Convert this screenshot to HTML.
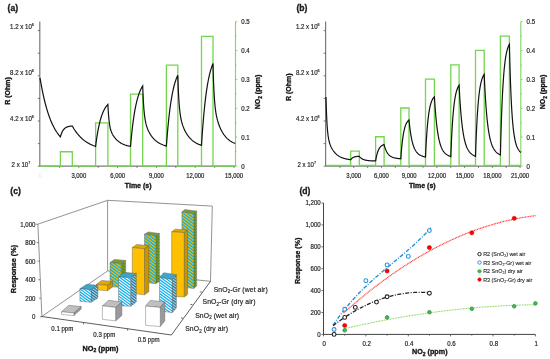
<!DOCTYPE html>
<html><head><meta charset="utf-8"><style>
html,body{margin:0;padding:0;background:#fff;width:550px;height:359px;overflow:hidden}
svg{display:block;font-family:"Liberation Sans",sans-serif;filter:blur(0.3px)} text[fill='#2a2a2a']{stroke:#2a2a2a;stroke-width:0.22px} text[font-weight='bold']{stroke:#111;stroke-width:0.3px}
</style></head><body>
<svg width="550" height="359" viewBox="0 0 550 359" style='font-family:"Liberation Sans",sans-serif'>
<defs>
<pattern id="hc" width="2.2" height="2.2" patternUnits="userSpaceOnUse" patternTransform="rotate(-62)"><rect width="2.2" height="2.2" fill="#fff"/><rect width="1.15" height="2.2" fill="#18b0ec"/></pattern>
<pattern id="hcr" width="2.2" height="2.2" patternUnits="userSpaceOnUse" patternTransform="rotate(-62)"><rect width="2.2" height="2.2" fill="#c4ccd0"/><rect width="1.15" height="2.2" fill="#1a80b0"/></pattern>
<pattern id="hg" width="2.4" height="2.4" patternUnits="userSpaceOnUse" patternTransform="rotate(-62)"><rect width="2.4" height="2.4" fill="#ecc000"/><rect width="1.2" height="2.4" fill="#22aedc"/></pattern>
<pattern id="hgr" width="2.4" height="2.4" patternUnits="userSpaceOnUse" patternTransform="rotate(-62)"><rect width="2.4" height="2.4" fill="#628c2c"/><rect width="0.6" height="2.4" fill="#4f9a88"/></pattern>
</defs>
<defs><clipPath id="cp1"><polygon points="121.3,263.6 125.7,260.40000000000003 125.7,284.40000000000003 121.3,287.6"/></clipPath><clipPath id="cp2"><polygon points="110.0,262.6 121.3,263.6 121.3,287.6 110.0,286.6"/></clipPath><clipPath id="cp3"><polygon points="155.8,235.79999999999998 159.5,233.49999999999997 159.5,281.5 155.8,283.79999999999995"/></clipPath><clipPath id="cp4"><polygon points="144.5,234.2 155.8,235.79999999999998 155.8,283.79999999999995 144.5,282.2"/></clipPath><clipPath id="cp5"><polygon points="193.8,213.5 196.70000000000002,211.1 196.70000000000002,286.1 193.8,288.5"/></clipPath><clipPath id="cp6"><polygon points="181.9,212.0 193.8,213.5 193.8,288.5 181.9,287.0"/></clipPath><clipPath id="cp7"><polygon points="91.10000000000001,289.7 97.9,285.3 97.9,297.90000000000003 91.10000000000001,302.3"/></clipPath><clipPath id="cp8"><polygon points="79.9,288.7 91.10000000000001,289.7 91.10000000000001,302.3 79.9,301.3"/></clipPath><clipPath id="cp9"><polygon points="130.7,277.6 136.29999999999998,273.40000000000003 136.29999999999998,302.1 130.7,306.3"/></clipPath><clipPath id="cp10"><polygon points="118.5,277.0 130.7,277.6 130.7,306.3 118.5,305.7"/></clipPath><clipPath id="cp11"><polygon points="172.2,279.5 176.39999999999998,274.7 176.39999999999998,307.9 172.2,312.7"/></clipPath><clipPath id="cp12"><polygon points="159.5,277.5 172.2,279.5 172.2,312.7 159.5,310.7"/></clipPath></defs>
<text x="7.6" y="10.7" font-size="8.6" text-anchor="start" font-weight="bold" fill="#222" >(a)</text>
<line x1="39.8" y1="21.5" x2="39.8" y2="166.2" stroke="#7a7a7a" stroke-width="1.2"/>
<line x1="37.8" y1="30.6" x2="39.8" y2="30.6" stroke="#555" stroke-width="0.8"/>
<line x1="37.8" y1="53.2" x2="39.8" y2="53.2" stroke="#555" stroke-width="0.8"/>
<line x1="37.8" y1="75.8" x2="39.8" y2="75.8" stroke="#555" stroke-width="0.8"/>
<line x1="37.8" y1="98.4" x2="39.8" y2="98.4" stroke="#555" stroke-width="0.8"/>
<line x1="37.8" y1="121.0" x2="39.8" y2="121.0" stroke="#555" stroke-width="0.8"/>
<line x1="37.8" y1="143.6" x2="39.8" y2="143.6" stroke="#555" stroke-width="0.8"/>
<line x1="37.8" y1="166.2" x2="39.8" y2="166.2" stroke="#555" stroke-width="0.8"/>
<text transform="translate(33.8 28.8) scale(0.84 1)" x="0" y="0" font-size="7.26" text-anchor="end" fill="#2a2a2a">1.2 x 10<tspan font-size="4.356" dy="-2.6">6</tspan></text>
<text transform="translate(33.8 74.8) scale(0.84 1)" x="0" y="0" font-size="7.26" text-anchor="end" fill="#2a2a2a">8.2 x 10<tspan font-size="4.356" dy="-2.6">6</tspan></text>
<text transform="translate(33.8 120.8) scale(0.84 1)" x="0" y="0" font-size="7.26" text-anchor="end" fill="#2a2a2a">4.2 x 10<tspan font-size="4.356" dy="-2.6">6</tspan></text>
<text transform="translate(30.199999999999996 166.8) scale(0.84 1)" x="0" y="0" font-size="7.26" text-anchor="end" fill="#2a2a2a">2 x 10<tspan font-size="4.356" dy="-2.6">7</tspan></text>
<line x1="39.8" y1="166.2" x2="235.5" y2="166.2" stroke="#7a7a7a" stroke-width="1.2"/>
<line x1="59.4" y1="166.2" x2="59.4" y2="168" stroke="#555" stroke-width="0.7"/>
<line x1="78.8" y1="166.2" x2="78.8" y2="168" stroke="#555" stroke-width="0.7"/>
<line x1="98.2" y1="166.2" x2="98.2" y2="168" stroke="#555" stroke-width="0.7"/>
<line x1="117.6" y1="166.2" x2="117.6" y2="168" stroke="#555" stroke-width="0.7"/>
<line x1="137.0" y1="166.2" x2="137.0" y2="168" stroke="#555" stroke-width="0.7"/>
<line x1="156.4" y1="166.2" x2="156.4" y2="168" stroke="#555" stroke-width="0.7"/>
<line x1="175.8" y1="166.2" x2="175.8" y2="168" stroke="#555" stroke-width="0.7"/>
<line x1="195.2" y1="166.2" x2="195.2" y2="168" stroke="#555" stroke-width="0.7"/>
<line x1="214.6" y1="166.2" x2="214.6" y2="168" stroke="#555" stroke-width="0.7"/>
<line x1="234.0" y1="166.2" x2="234.0" y2="168" stroke="#555" stroke-width="0.7"/>
<text transform="translate(40.099999999999994 177.5) scale(0.87 1)" x="0" y="0" font-size="6.8" text-anchor="middle" fill="#e4e4e4">0</text>
<text transform="translate(78.8 177.5) scale(0.87 1)" x="0" y="0" font-size="6.8" text-anchor="middle" fill="#2a2a2a">3,000</text>
<text transform="translate(117.6 177.5) scale(0.87 1)" x="0" y="0" font-size="6.8" text-anchor="middle" fill="#2a2a2a">6,000</text>
<text transform="translate(156.39999999999998 177.5) scale(0.87 1)" x="0" y="0" font-size="6.8" text-anchor="middle" fill="#2a2a2a">9,000</text>
<text transform="translate(195.2 177.5) scale(0.87 1)" x="0" y="0" font-size="6.8" text-anchor="middle" fill="#2a2a2a">12,000</text>
<text transform="translate(234.0 177.5) scale(0.87 1)" x="0" y="0" font-size="6.8" text-anchor="middle" fill="#2a2a2a">15,000</text>
<text x="138.15" y="187.5" font-size="7" text-anchor="middle" font-weight="bold" fill="#111" >Time (s)</text>
<text x="0" y="0" font-size="7" font-weight="bold" fill="#111" text-anchor="middle" transform="translate(9.5 91) rotate(-90)">R (Ohm)</text>
<line x1="235.5" y1="21.5" x2="235.5" y2="166.2" stroke="#88d66a" stroke-width="1.15"/>
<line x1="235.5" y1="21.7" x2="237.3" y2="21.7" stroke="#7cc85e" stroke-width="0.8"/>
<line x1="235.5" y1="36.1" x2="236.7" y2="36.1" stroke="#7cc85e" stroke-width="0.8"/>
<line x1="235.5" y1="50.6" x2="237.3" y2="50.6" stroke="#7cc85e" stroke-width="0.8"/>
<line x1="235.5" y1="65.0" x2="236.7" y2="65.0" stroke="#7cc85e" stroke-width="0.8"/>
<line x1="235.5" y1="79.4" x2="237.3" y2="79.4" stroke="#7cc85e" stroke-width="0.8"/>
<line x1="235.5" y1="93.9" x2="236.7" y2="93.9" stroke="#7cc85e" stroke-width="0.8"/>
<line x1="235.5" y1="108.3" x2="237.3" y2="108.3" stroke="#7cc85e" stroke-width="0.8"/>
<line x1="235.5" y1="122.7" x2="236.7" y2="122.7" stroke="#7cc85e" stroke-width="0.8"/>
<line x1="235.5" y1="137.1" x2="237.3" y2="137.1" stroke="#7cc85e" stroke-width="0.8"/>
<line x1="235.5" y1="151.6" x2="236.7" y2="151.6" stroke="#7cc85e" stroke-width="0.8"/>
<line x1="235.5" y1="166.0" x2="237.3" y2="166.0" stroke="#7cc85e" stroke-width="0.8"/>
<text transform="translate(241.3 24.2) scale(0.87 1)" x="0" y="0" font-size="7.0" text-anchor="start" fill="#2a2a2a">0.5</text>
<text transform="translate(241.3 53.06) scale(0.87 1)" x="0" y="0" font-size="7.0" text-anchor="start" fill="#2a2a2a">0.4</text>
<text transform="translate(241.3 81.92) scale(0.87 1)" x="0" y="0" font-size="7.0" text-anchor="start" fill="#2a2a2a">0.3</text>
<text transform="translate(241.3 110.78) scale(0.87 1)" x="0" y="0" font-size="7.0" text-anchor="start" fill="#2a2a2a">0.2</text>
<text transform="translate(241.3 139.64) scale(0.87 1)" x="0" y="0" font-size="7.0" text-anchor="start" fill="#2a2a2a">0.1</text>
<text transform="translate(241.3 168.5) scale(0.87 1)" x="0" y="0" font-size="7.0" text-anchor="start" fill="#2a2a2a">0</text>
<text x="0" y="0" font-size="7" font-weight="bold" fill="#111" text-anchor="middle" transform="translate(260.0 92) rotate(-90)">NO<tspan font-size="4.8" dy="1.5">2</tspan><tspan dy="-1.5"> (ppm)</tspan></text>
<path d="M40.00,166.20 L60.40,166.20 L60.40,151.77 L72.30,151.77 L72.30,166.20 L95.60,166.20 L95.60,122.91 L107.90,122.91 L107.90,166.20 L130.50,166.20 L130.50,94.05 L142.70,94.05 L142.70,166.20 L166.40,166.20 L166.40,65.19 L177.80,65.19 L177.80,166.20 L201.50,166.20 L201.50,36.33 L213.00,36.33 L213.00,166.20 L235.30,166.20" fill="none" stroke="#72d64e" stroke-width="1.3"/>
<path d="M40.00,77.80 L40.51,80.80 L41.02,83.68 L41.53,86.44 L42.04,89.09 L42.55,91.62 L43.06,94.05 L43.57,96.38 L44.08,98.61 L44.59,100.75 L45.10,102.80 L45.61,104.76 L46.12,106.64 L46.63,108.45 L47.14,110.18 L47.65,111.83 L48.16,113.42 L48.67,114.94 L49.18,116.40 L49.69,117.80 L50.20,119.14 L50.71,120.42 L51.22,121.66 L51.73,122.83 L52.24,123.97 L52.75,125.05 L53.26,126.09 L53.77,127.08 L54.28,128.04 L54.79,128.95 L55.30,129.83 L55.81,130.66 L56.32,131.47 L56.83,132.24 L57.34,132.98 L57.85,133.69 L58.36,134.37 L58.87,135.02 L59.38,135.64 L59.89,136.24 L60.40,136.81 L60.80,135.45 L61.19,134.25 L61.59,133.20 L61.99,132.28 L62.38,131.48 L62.78,130.78 L63.18,130.16 L63.57,129.62 L63.97,129.14 L64.37,128.73 L64.76,128.36 L65.16,128.05 L65.56,127.77 L65.95,127.52 L66.35,127.31 L66.75,127.12 L67.14,126.96 L67.54,126.81 L67.94,126.68 L68.33,126.57 L68.73,126.48 L69.13,126.39 L69.52,126.32 L69.92,126.25 L70.32,126.20 L70.71,126.15 L71.11,126.10 L71.51,126.06 L71.90,126.03 L72.30,126.00 L72.33,126.06 L72.40,126.18 L72.49,126.34 L72.61,126.54 L72.74,126.77 L72.89,127.03 L73.05,127.31 L73.23,127.61 L73.42,127.94 L73.63,128.27 L73.84,128.63 L74.07,129.00 L74.32,129.38 L74.57,129.77 L74.84,130.17 L75.11,130.58 L75.40,131.00 L75.69,131.42 L76.00,131.85 L76.32,132.28 L76.64,132.72 L76.98,133.15 L77.32,133.59 L77.68,134.03 L78.04,134.47 L78.41,134.91 L78.79,135.34 L79.18,135.78 L79.58,136.21 L79.99,136.64 L80.40,137.06 L80.82,137.48 L81.25,137.89 L81.69,138.30 L82.14,138.71 L82.59,139.10 L83.05,139.49 L83.52,139.88 L84.00,140.26 L84.48,140.63 L84.97,140.99 L85.47,141.34 L85.97,141.69 L86.49,142.03 L87.00,142.37 L87.53,142.69 L88.06,143.01 L88.60,143.32 L89.15,143.62 L89.70,143.91 L90.26,144.19 L90.83,144.47 L91.41,144.74 L91.99,145.00 L92.57,145.25 L93.16,145.50 L93.76,145.73 L94.37,145.96 L94.98,146.19 L95.60,146.40 L96.01,143.22 L96.42,140.24 L96.83,137.46 L97.24,134.87 L97.65,132.45 L98.06,130.19 L98.47,128.07 L98.88,126.10 L99.29,124.26 L99.70,122.53 L100.11,120.93 L100.52,119.43 L100.93,118.02 L101.34,116.71 L101.75,115.49 L102.16,114.35 L102.57,113.28 L102.98,112.28 L103.39,111.35 L103.80,110.48 L104.21,109.67 L104.62,108.91 L105.03,108.21 L105.44,107.55 L105.85,106.93 L106.26,106.35 L106.67,105.81 L107.08,105.31 L107.49,104.84 L107.90,104.40 L107.93,105.07 L108.00,106.38 L108.09,108.06 L108.20,109.97 L108.32,111.99 L108.47,114.05 L108.63,116.09 L108.80,118.06 L108.99,119.93 L109.19,121.67 L109.40,123.29 L109.62,124.77 L109.86,126.13 L110.10,127.36 L110.36,128.49 L110.63,129.51 L110.90,130.45 L111.19,131.31 L111.49,132.10 L111.80,132.83 L112.11,133.52 L112.44,134.17 L112.77,134.78 L113.12,135.36 L113.47,135.92 L113.83,136.45 L114.20,136.96 L114.58,137.46 L114.96,137.94 L115.36,138.40 L115.76,138.85 L116.17,139.28 L116.58,139.70 L117.01,140.11 L117.44,140.50 L117.88,140.88 L118.33,141.24 L118.78,141.59 L119.24,141.93 L119.71,142.26 L120.19,142.57 L120.67,142.87 L121.16,143.16 L121.66,143.43 L122.16,143.70 L122.67,143.95 L123.19,144.19 L123.71,144.41 L124.24,144.63 L124.78,144.84 L125.33,145.04 L125.88,145.22 L126.43,145.40 L126.99,145.57 L127.56,145.73 L128.14,145.88 L128.72,146.02 L129.31,146.15 L129.90,146.28 L130.50,146.40 L130.91,141.85 L131.31,137.59 L131.72,133.61 L132.13,129.90 L132.53,126.42 L132.94,123.18 L133.35,120.15 L133.75,117.31 L134.16,114.66 L134.57,112.19 L134.97,109.88 L135.38,107.72 L135.79,105.70 L136.19,103.81 L136.60,102.05 L137.01,100.40 L137.41,98.86 L137.82,97.42 L138.23,96.08 L138.63,94.82 L139.04,93.65 L139.45,92.55 L139.85,91.52 L140.26,90.56 L140.67,89.67 L141.07,88.83 L141.48,88.05 L141.89,87.32 L142.29,86.64 L142.70,86.00 L142.73,86.96 L142.80,88.83 L142.90,91.23 L143.01,93.95 L143.14,96.84 L143.30,99.79 L143.46,102.70 L143.64,105.51 L143.84,108.18 L144.05,110.67 L144.27,112.98 L144.50,115.10 L144.75,117.04 L145.01,118.81 L145.28,120.41 L145.56,121.87 L145.85,123.21 L146.15,124.44 L146.46,125.57 L146.79,126.62 L147.12,127.60 L147.46,128.52 L147.81,129.40 L148.17,130.23 L148.54,131.02 L148.92,131.79 L149.31,132.52 L149.70,133.23 L150.11,133.91 L150.52,134.57 L150.94,135.21 L151.37,135.83 L151.81,136.43 L152.25,137.01 L152.70,137.57 L153.17,138.11 L153.64,138.63 L154.11,139.13 L154.60,139.62 L155.09,140.08 L155.59,140.53 L156.09,140.96 L156.61,141.37 L157.13,141.76 L157.66,142.14 L158.19,142.50 L158.73,142.84 L159.28,143.16 L159.84,143.48 L160.40,143.77 L160.97,144.05 L161.55,144.32 L162.13,144.57 L162.72,144.81 L163.32,145.04 L163.92,145.25 L164.53,145.46 L165.15,145.65 L165.77,145.83 L166.40,146.00 L166.78,140.89 L167.16,136.10 L167.54,131.59 L167.92,127.37 L168.30,123.40 L168.68,119.68 L169.06,116.19 L169.44,112.91 L169.82,109.83 L170.20,106.94 L170.58,104.23 L170.96,101.68 L171.34,99.29 L171.72,97.05 L172.10,94.95 L172.48,92.97 L172.86,91.11 L173.24,89.37 L173.62,87.74 L174.00,86.21 L174.38,84.77 L174.76,83.42 L175.14,82.15 L175.52,80.96 L175.90,79.84 L176.28,78.79 L176.66,77.81 L177.04,76.88 L177.42,76.01 L177.80,75.20 L177.83,76.32 L177.90,78.50 L178.00,81.31 L178.11,84.49 L178.24,87.87 L178.40,91.31 L178.56,94.71 L178.74,98.00 L178.94,101.11 L179.15,104.03 L179.37,106.73 L179.60,109.20 L179.85,111.47 L180.11,113.53 L180.38,115.40 L180.66,117.11 L180.95,118.67 L181.25,120.11 L181.56,121.43 L181.89,122.66 L182.22,123.80 L182.56,124.88 L182.91,125.90 L183.27,126.88 L183.64,127.80 L184.02,128.69 L184.41,129.55 L184.80,130.38 L185.21,131.18 L185.62,131.95 L186.04,132.70 L186.47,133.42 L186.91,134.12 L187.35,134.80 L187.80,135.45 L188.27,136.08 L188.74,136.69 L189.21,137.28 L189.70,137.84 L190.19,138.39 L190.69,138.91 L191.19,139.41 L191.71,139.89 L192.23,140.35 L192.76,140.79 L193.29,141.21 L193.83,141.61 L194.38,141.99 L194.94,142.35 L195.50,142.70 L196.07,143.02 L196.65,143.34 L197.23,143.63 L197.82,143.91 L198.42,144.18 L199.02,144.43 L199.63,144.67 L200.25,144.89 L200.87,145.10 L201.50,145.30 L201.88,139.36 L202.27,133.80 L202.65,128.57 L203.03,123.67 L203.42,119.07 L203.80,114.76 L204.18,110.72 L204.57,106.92 L204.95,103.36 L205.33,100.02 L205.72,96.89 L206.10,93.95 L206.48,91.19 L206.87,88.60 L207.25,86.18 L207.63,83.90 L208.02,81.76 L208.40,79.76 L208.78,77.88 L209.17,76.12 L209.55,74.46 L209.93,72.91 L210.32,71.46 L210.70,70.09 L211.08,68.81 L211.47,67.61 L211.85,66.48 L212.23,65.42 L212.62,64.43 L213.00,63.50 L213.03,64.78 L213.10,67.27 L213.18,70.47 L213.29,74.10 L213.42,77.96 L213.56,81.89 L213.72,85.77 L213.89,89.52 L214.07,93.07 L214.27,96.40 L214.48,99.48 L214.70,102.31 L214.93,104.89 L215.17,107.24 L215.43,109.38 L215.69,111.33 L215.96,113.11 L216.25,114.75 L216.54,116.26 L216.85,117.66 L217.16,118.97 L217.48,120.20 L217.81,121.36 L218.15,122.47 L218.49,123.53 L218.85,124.55 L219.22,125.53 L219.59,126.47 L219.97,127.38 L220.36,128.27 L220.75,129.12 L221.16,129.94 L221.57,130.74 L221.99,131.51 L222.41,132.26 L222.85,132.98 L223.29,133.68 L223.74,134.35 L224.19,134.99 L224.66,135.61 L225.13,136.20 L225.60,136.78 L226.09,137.32 L226.58,137.85 L227.07,138.35 L227.58,138.83 L228.09,139.28 L228.60,139.72 L229.13,140.13 L229.66,140.53 L230.19,140.90 L230.74,141.26 L231.29,141.60 L231.84,141.92 L232.40,142.22 L232.97,142.51 L233.54,142.78 L234.12,143.03 L234.71,143.27 L235.30,143.50" fill="none" stroke="#111" stroke-width="1.2"/>
<text x="296.40000000000003" y="10.7" font-size="8.6" text-anchor="start" font-weight="bold" fill="#222" >(b)</text>
<line x1="325.6" y1="21.5" x2="325.6" y2="166.2" stroke="#7a7a7a" stroke-width="1.2"/>
<line x1="323.6" y1="30.6" x2="325.6" y2="30.6" stroke="#555" stroke-width="0.8"/>
<line x1="323.6" y1="53.2" x2="325.6" y2="53.2" stroke="#555" stroke-width="0.8"/>
<line x1="323.6" y1="75.8" x2="325.6" y2="75.8" stroke="#555" stroke-width="0.8"/>
<line x1="323.6" y1="98.4" x2="325.6" y2="98.4" stroke="#555" stroke-width="0.8"/>
<line x1="323.6" y1="121.0" x2="325.6" y2="121.0" stroke="#555" stroke-width="0.8"/>
<line x1="323.6" y1="143.6" x2="325.6" y2="143.6" stroke="#555" stroke-width="0.8"/>
<line x1="323.6" y1="166.2" x2="325.6" y2="166.2" stroke="#555" stroke-width="0.8"/>
<text transform="translate(319.6 28.8) scale(0.84 1)" x="0" y="0" font-size="7.26" text-anchor="end" fill="#2a2a2a">1.2 x 10<tspan font-size="4.356" dy="-2.6">6</tspan></text>
<text transform="translate(319.6 74.8) scale(0.84 1)" x="0" y="0" font-size="7.26" text-anchor="end" fill="#2a2a2a">8.2 x 10<tspan font-size="4.356" dy="-2.6">6</tspan></text>
<text transform="translate(319.6 120.8) scale(0.84 1)" x="0" y="0" font-size="7.26" text-anchor="end" fill="#2a2a2a">4.2 x 10<tspan font-size="4.356" dy="-2.6">6</tspan></text>
<text transform="translate(316.0 166.8) scale(0.84 1)" x="0" y="0" font-size="7.26" text-anchor="end" fill="#2a2a2a">2 x 10<tspan font-size="4.356" dy="-2.6">7</tspan></text>
<line x1="325.6" y1="166.2" x2="520.8" y2="166.2" stroke="#7a7a7a" stroke-width="1.2"/>
<line x1="339.9" y1="166.2" x2="339.9" y2="168" stroke="#555" stroke-width="0.7"/>
<line x1="353.7" y1="166.2" x2="353.7" y2="168" stroke="#555" stroke-width="0.7"/>
<line x1="367.6" y1="166.2" x2="367.6" y2="168" stroke="#555" stroke-width="0.7"/>
<line x1="381.4" y1="166.2" x2="381.4" y2="168" stroke="#555" stroke-width="0.7"/>
<line x1="395.3" y1="166.2" x2="395.3" y2="168" stroke="#555" stroke-width="0.7"/>
<line x1="409.2" y1="166.2" x2="409.2" y2="168" stroke="#555" stroke-width="0.7"/>
<line x1="423.0" y1="166.2" x2="423.0" y2="168" stroke="#555" stroke-width="0.7"/>
<line x1="436.9" y1="166.2" x2="436.9" y2="168" stroke="#555" stroke-width="0.7"/>
<line x1="450.7" y1="166.2" x2="450.7" y2="168" stroke="#555" stroke-width="0.7"/>
<line x1="464.6" y1="166.2" x2="464.6" y2="168" stroke="#555" stroke-width="0.7"/>
<line x1="478.5" y1="166.2" x2="478.5" y2="168" stroke="#555" stroke-width="0.7"/>
<line x1="492.3" y1="166.2" x2="492.3" y2="168" stroke="#555" stroke-width="0.7"/>
<line x1="506.2" y1="166.2" x2="506.2" y2="168" stroke="#555" stroke-width="0.7"/>
<line x1="520.0" y1="166.2" x2="520.0" y2="168" stroke="#555" stroke-width="0.7"/>
<text transform="translate(353.73 177.5) scale(0.87 1)" x="0" y="0" font-size="6.8" text-anchor="middle" fill="#2a2a2a">3,000</text>
<text transform="translate(381.46 177.5) scale(0.87 1)" x="0" y="0" font-size="6.8" text-anchor="middle" fill="#2a2a2a">6,000</text>
<text transform="translate(409.19 177.5) scale(0.87 1)" x="0" y="0" font-size="6.8" text-anchor="middle" fill="#2a2a2a">9,000</text>
<text transform="translate(436.92 177.5) scale(0.87 1)" x="0" y="0" font-size="6.8" text-anchor="middle" fill="#2a2a2a">12,000</text>
<text transform="translate(464.65 177.5) scale(0.87 1)" x="0" y="0" font-size="6.8" text-anchor="middle" fill="#2a2a2a">15,000</text>
<text transform="translate(492.38 177.5) scale(0.87 1)" x="0" y="0" font-size="6.8" text-anchor="middle" fill="#2a2a2a">18,000</text>
<text transform="translate(520.11 177.5) scale(0.87 1)" x="0" y="0" font-size="6.8" text-anchor="middle" fill="#2a2a2a">21,000</text>
<text x="422.3" y="187.5" font-size="7" text-anchor="middle" font-weight="bold" fill="#111" >Time (s)</text>
<text x="0" y="0" font-size="7" font-weight="bold" fill="#111" text-anchor="middle" transform="translate(290.8 87.3) rotate(-90)">R (Ohm)</text>
<line x1="520.8" y1="21.5" x2="520.8" y2="166.2" stroke="#88d66a" stroke-width="1.15"/>
<line x1="520.8" y1="21.7" x2="522.5999999999999" y2="21.7" stroke="#7cc85e" stroke-width="0.8"/>
<line x1="520.8" y1="36.1" x2="522.0" y2="36.1" stroke="#7cc85e" stroke-width="0.8"/>
<line x1="520.8" y1="50.6" x2="522.5999999999999" y2="50.6" stroke="#7cc85e" stroke-width="0.8"/>
<line x1="520.8" y1="65.0" x2="522.0" y2="65.0" stroke="#7cc85e" stroke-width="0.8"/>
<line x1="520.8" y1="79.4" x2="522.5999999999999" y2="79.4" stroke="#7cc85e" stroke-width="0.8"/>
<line x1="520.8" y1="93.9" x2="522.0" y2="93.9" stroke="#7cc85e" stroke-width="0.8"/>
<line x1="520.8" y1="108.3" x2="522.5999999999999" y2="108.3" stroke="#7cc85e" stroke-width="0.8"/>
<line x1="520.8" y1="122.7" x2="522.0" y2="122.7" stroke="#7cc85e" stroke-width="0.8"/>
<line x1="520.8" y1="137.1" x2="522.5999999999999" y2="137.1" stroke="#7cc85e" stroke-width="0.8"/>
<line x1="520.8" y1="151.6" x2="522.0" y2="151.6" stroke="#7cc85e" stroke-width="0.8"/>
<line x1="520.8" y1="166.0" x2="522.5999999999999" y2="166.0" stroke="#7cc85e" stroke-width="0.8"/>
<text transform="translate(526.5999999999999 24.2) scale(0.87 1)" x="0" y="0" font-size="7.0" text-anchor="start" fill="#2a2a2a">0.5</text>
<text transform="translate(526.5999999999999 53.06) scale(0.87 1)" x="0" y="0" font-size="7.0" text-anchor="start" fill="#2a2a2a">0.4</text>
<text transform="translate(526.5999999999999 81.92) scale(0.87 1)" x="0" y="0" font-size="7.0" text-anchor="start" fill="#2a2a2a">0.3</text>
<text transform="translate(526.5999999999999 110.78) scale(0.87 1)" x="0" y="0" font-size="7.0" text-anchor="start" fill="#2a2a2a">0.2</text>
<text transform="translate(526.5999999999999 139.64) scale(0.87 1)" x="0" y="0" font-size="7.0" text-anchor="start" fill="#2a2a2a">0.1</text>
<text transform="translate(526.5999999999999 168.5) scale(0.87 1)" x="0" y="0" font-size="7.0" text-anchor="start" fill="#2a2a2a">0</text>
<text x="0" y="0" font-size="7" font-weight="bold" fill="#111" text-anchor="middle" transform="translate(545.3 92) rotate(-90)">NO<tspan font-size="4.8" dy="1.5">2</tspan><tspan dy="-1.5"> (ppm)</tspan></text>
<path d="M326.00,165.50 L350.70,165.50 L350.70,151.12 L359.30,151.12 L359.30,165.50 L375.60,165.50 L375.60,136.74 L384.10,136.74 L384.10,165.50 L400.80,165.50 L400.80,107.98 L409.00,107.98 L409.00,165.50 L425.50,165.50 L425.50,79.22 L434.40,79.22 L434.40,165.50 L450.80,165.50 L450.80,64.84 L459.10,64.84 L459.10,165.50 L475.50,165.50 L475.50,50.46 L484.20,50.46 L484.20,165.50 L500.40,165.50 L500.40,36.08 L509.40,36.08 L509.40,165.50 L520.80,165.50" fill="none" stroke="#72d64e" stroke-width="1.3"/>
<path d="M326.00,97.00 L326.00,97.15 L326.02,97.61 L326.03,98.36 L326.06,99.39 L326.10,100.68 L326.14,102.20 L326.19,103.92 L326.25,105.81 L326.31,107.84 L326.39,109.98 L326.47,112.18 L326.56,114.41 L326.65,116.66 L326.76,118.88 L326.87,121.05 L326.99,123.17 L327.12,125.20 L327.25,127.13 L327.39,128.97 L327.54,130.69 L327.70,132.31 L327.87,133.82 L328.04,135.22 L328.22,136.52 L328.41,137.73 L328.61,138.84 L328.81,139.88 L329.03,140.84 L329.25,141.74 L329.47,142.58 L329.71,143.37 L329.95,144.12 L330.20,144.82 L330.46,145.49 L330.73,146.14 L331.00,146.75 L331.28,147.34 L331.57,147.91 L331.87,148.47 L332.18,149.00 L332.49,149.52 L332.81,150.02 L333.14,150.51 L333.47,150.99 L333.82,151.45 L334.17,151.89 L334.53,152.33 L334.89,152.75 L335.27,153.15 L335.65,153.54 L336.04,153.92 L336.44,154.28 L336.84,154.63 L337.25,154.97 L337.67,155.29 L338.10,155.60 L338.54,155.90 L338.98,156.18 L339.43,156.45 L339.89,156.71 L340.36,156.95 L340.84,157.18 L341.32,157.41 L341.81,157.61 L342.31,157.81 L342.81,158.00 L343.32,158.18 L343.85,158.34 L344.37,158.50 L344.91,158.65 L345.46,158.79 L346.01,158.92 L346.57,159.04 L347.13,159.15 L347.71,159.26 L348.29,159.36 L348.88,159.45 L349.48,159.54 L350.09,159.62 L350.70,159.69 L350.99,159.31 L351.27,158.97 L351.56,158.67 L351.85,158.40 L352.13,158.16 L352.42,157.95 L352.71,157.76 L352.99,157.59 L353.28,157.44 L353.57,157.30 L353.85,157.18 L354.14,157.07 L354.43,156.98 L354.71,156.89 L355.00,156.81 L355.29,156.75 L355.57,156.69 L355.86,156.63 L356.15,156.58 L356.43,156.54 L356.72,156.50 L357.01,156.47 L357.29,156.44 L357.58,156.41 L357.87,156.39 L358.15,156.37 L358.44,156.35 L358.73,156.33 L359.01,156.31 L359.30,156.30 L359.32,156.33 L359.37,156.39 L359.44,156.48 L359.51,156.58 L359.61,156.69 L359.71,156.81 L359.82,156.94 L359.95,157.08 L360.08,157.23 L360.23,157.38 L360.38,157.53 L360.54,157.68 L360.71,157.83 L360.89,157.98 L361.07,158.13 L361.27,158.28 L361.47,158.43 L361.67,158.57 L361.89,158.71 L362.11,158.84 L362.34,158.97 L362.57,159.10 L362.81,159.22 L363.06,159.33 L363.32,159.44 L363.58,159.54 L363.84,159.64 L364.12,159.74 L364.39,159.83 L364.68,159.91 L364.97,159.99 L365.26,160.07 L365.56,160.14 L365.87,160.20 L366.18,160.27 L366.50,160.32 L366.82,160.38 L367.15,160.43 L367.48,160.48 L367.82,160.52 L368.16,160.56 L368.51,160.60 L368.87,160.64 L369.22,160.67 L369.59,160.71 L369.96,160.74 L370.33,160.76 L370.71,160.79 L371.09,160.81 L371.48,160.84 L371.87,160.86 L372.26,160.88 L372.67,160.90 L373.07,160.91 L373.48,160.93 L373.90,160.95 L374.32,160.96 L374.74,160.97 L375.17,160.99 L375.60,161.00 L375.88,159.34 L376.17,157.84 L376.45,156.49 L376.73,155.27 L377.02,154.16 L377.30,153.16 L377.58,152.26 L377.87,151.44 L378.15,150.70 L378.43,150.04 L378.72,149.43 L379.00,148.89 L379.28,148.40 L379.57,147.95 L379.85,147.55 L380.13,147.18 L380.42,146.86 L380.70,146.56 L380.98,146.29 L381.27,146.05 L381.55,145.83 L381.83,145.63 L382.12,145.45 L382.40,145.29 L382.68,145.15 L382.97,145.01 L383.25,144.89 L383.53,144.79 L383.82,144.69 L384.10,144.60 L384.12,144.69 L384.17,144.88 L384.24,145.13 L384.32,145.43 L384.41,145.77 L384.52,146.15 L384.64,146.55 L384.76,146.97 L384.90,147.41 L385.05,147.85 L385.21,148.31 L385.37,148.77 L385.55,149.23 L385.73,149.69 L385.92,150.14 L386.11,150.59 L386.32,151.03 L386.53,151.46 L386.75,151.88 L386.98,152.28 L387.21,152.67 L387.45,153.05 L387.70,153.41 L387.95,153.76 L388.22,154.09 L388.48,154.40 L388.75,154.70 L389.03,154.99 L389.32,155.26 L389.61,155.51 L389.91,155.75 L390.21,155.98 L390.52,156.19 L390.83,156.39 L391.15,156.58 L391.47,156.76 L391.81,156.92 L392.14,157.08 L392.48,157.22 L392.83,157.36 L393.18,157.48 L393.54,157.60 L393.90,157.71 L394.27,157.81 L394.64,157.91 L395.02,158.00 L395.40,158.08 L395.79,158.16 L396.18,158.24 L396.57,158.30 L396.98,158.37 L397.38,158.43 L397.79,158.49 L398.21,158.54 L398.63,158.59 L399.05,158.64 L399.48,158.68 L399.92,158.72 L400.36,158.76 L400.80,158.80 L401.07,154.99 L401.35,151.53 L401.62,148.39 L401.89,145.55 L402.17,142.97 L402.44,140.63 L402.71,138.51 L402.99,136.58 L403.26,134.84 L403.53,133.25 L403.81,131.82 L404.08,130.51 L404.35,129.33 L404.63,128.26 L404.90,127.29 L405.17,126.41 L405.45,125.61 L405.72,124.88 L405.99,124.22 L406.27,123.63 L406.54,123.09 L406.81,122.59 L407.09,122.15 L407.36,121.75 L407.63,121.38 L407.91,121.05 L408.18,120.75 L408.45,120.47 L408.73,120.22 L409.00,120.00 L409.02,120.24 L409.07,120.73 L409.14,121.38 L409.22,122.17 L409.31,123.06 L409.41,124.03 L409.53,125.07 L409.66,126.17 L409.79,127.31 L409.94,128.48 L410.09,129.67 L410.26,130.87 L410.43,132.07 L410.61,133.26 L410.80,134.45 L410.99,135.61 L411.19,136.76 L411.40,137.87 L411.62,138.96 L411.85,140.01 L412.08,141.03 L412.31,142.01 L412.56,142.96 L412.81,143.86 L413.07,144.72 L413.33,145.54 L413.60,146.32 L413.87,147.07 L414.16,147.77 L414.44,148.43 L414.74,149.06 L415.04,149.65 L415.34,150.21 L415.65,150.73 L415.97,151.22 L416.29,151.68 L416.61,152.11 L416.95,152.51 L417.28,152.89 L417.62,153.24 L417.97,153.57 L418.32,153.88 L418.68,154.16 L419.05,154.43 L419.41,154.68 L419.79,154.92 L420.16,155.14 L420.55,155.34 L420.93,155.53 L421.33,155.71 L421.72,155.88 L422.12,156.03 L422.53,156.18 L422.94,156.32 L423.36,156.45 L423.78,156.57 L424.20,156.69 L424.63,156.80 L425.06,156.90 L425.50,157.00 L425.80,150.68 L426.09,145.00 L426.39,139.90 L426.69,135.30 L426.98,131.17 L427.28,127.45 L427.58,124.10 L427.87,121.10 L428.17,118.39 L428.47,115.96 L428.76,113.77 L429.06,111.80 L429.36,110.03 L429.65,108.44 L429.95,107.00 L430.25,105.71 L430.54,104.56 L430.84,103.51 L431.14,102.57 L431.43,101.73 L431.73,100.97 L432.03,100.29 L432.32,99.68 L432.62,99.12 L432.92,98.63 L433.21,98.18 L433.51,97.78 L433.81,97.42 L434.10,97.09 L434.40,96.80 L434.42,97.19 L434.47,97.98 L434.54,99.04 L434.62,100.30 L434.71,101.74 L434.81,103.31 L434.93,105.00 L435.05,106.77 L435.19,108.61 L435.33,110.50 L435.49,112.42 L435.65,114.36 L435.82,116.30 L436.00,118.23 L436.18,120.15 L436.38,122.03 L436.58,123.88 L436.79,125.69 L437.00,127.44 L437.23,129.15 L437.46,130.79 L437.69,132.38 L437.94,133.90 L438.19,135.36 L438.44,136.75 L438.70,138.08 L438.97,139.35 L439.24,140.54 L439.52,141.68 L439.81,142.75 L440.10,143.77 L440.40,144.72 L440.70,145.62 L441.01,146.47 L441.32,147.26 L441.64,148.00 L441.97,148.70 L442.30,149.35 L442.63,149.96 L442.97,150.53 L443.32,151.06 L443.67,151.55 L444.02,152.02 L444.38,152.45 L444.75,152.86 L445.12,153.23 L445.50,153.59 L445.88,153.92 L446.26,154.22 L446.65,154.51 L447.04,154.78 L447.44,155.04 L447.85,155.28 L448.26,155.50 L448.67,155.71 L449.09,155.91 L449.51,156.10 L449.93,156.27 L450.36,156.44 L450.80,156.60 L451.08,149.53 L451.35,143.12 L451.63,137.31 L451.91,132.06 L452.18,127.29 L452.46,122.98 L452.74,119.07 L453.01,115.52 L453.29,112.32 L453.57,109.41 L453.84,106.78 L454.12,104.39 L454.40,102.23 L454.67,100.27 L454.95,98.50 L455.23,96.89 L455.50,95.44 L455.78,94.12 L456.06,92.92 L456.33,91.84 L456.61,90.86 L456.89,89.97 L457.16,89.17 L457.44,88.44 L457.72,87.78 L457.99,87.18 L458.27,86.64 L458.55,86.15 L458.82,85.70 L459.10,85.30 L459.12,85.77 L459.17,86.70 L459.24,87.96 L459.32,89.46 L459.41,91.16 L459.51,93.03 L459.63,95.04 L459.75,97.14 L459.89,99.33 L460.03,101.57 L460.19,103.85 L460.35,106.15 L460.52,108.45 L460.70,110.75 L460.88,113.02 L461.08,115.26 L461.28,117.45 L461.49,119.60 L461.70,121.68 L461.93,123.70 L462.16,125.66 L462.39,127.54 L462.64,129.35 L462.89,131.08 L463.14,132.74 L463.40,134.31 L463.67,135.81 L463.94,137.24 L464.22,138.59 L464.51,139.86 L464.80,141.06 L465.10,142.20 L465.40,143.26 L465.71,144.27 L466.02,145.21 L466.34,146.09 L466.67,146.92 L467.00,147.69 L467.33,148.41 L467.67,149.09 L468.02,149.72 L468.37,150.31 L468.72,150.86 L469.08,151.37 L469.45,151.85 L469.82,152.30 L470.20,152.72 L470.58,153.11 L470.96,153.48 L471.35,153.82 L471.74,154.14 L472.14,154.45 L472.55,154.73 L472.96,154.99 L473.37,155.24 L473.79,155.48 L474.21,155.70 L474.63,155.91 L475.06,156.11 L475.50,156.30 L475.79,147.86 L476.08,140.26 L476.37,133.40 L476.66,127.22 L476.95,121.65 L477.24,116.62 L477.53,112.09 L477.82,108.00 L478.11,104.32 L478.40,101.00 L478.69,98.00 L478.98,95.30 L479.27,92.87 L479.56,90.68 L479.85,88.70 L480.14,86.91 L480.43,85.30 L480.72,83.85 L481.01,82.55 L481.30,81.37 L481.59,80.31 L481.88,79.35 L482.17,78.48 L482.46,77.70 L482.75,77.00 L483.04,76.37 L483.33,75.80 L483.62,75.28 L483.91,74.82 L484.20,74.40 L484.22,74.93 L484.27,75.99 L484.33,77.41 L484.41,79.12 L484.50,81.06 L484.61,83.18 L484.72,85.45 L484.84,87.84 L484.98,90.32 L485.12,92.87 L485.27,95.46 L485.43,98.07 L485.60,100.68 L485.78,103.29 L485.96,105.87 L486.15,108.41 L486.35,110.90 L486.56,113.33 L486.77,115.70 L486.99,118.00 L487.22,120.22 L487.45,122.35 L487.69,124.40 L487.94,126.37 L488.19,128.25 L488.45,130.04 L488.71,131.74 L488.99,133.36 L489.26,134.89 L489.54,136.34 L489.83,137.70 L490.13,138.99 L490.42,140.20 L490.73,141.34 L491.04,142.41 L491.35,143.41 L491.67,144.35 L492.00,145.22 L492.33,146.05 L492.67,146.81 L493.01,147.53 L493.36,148.20 L493.71,148.82 L494.06,149.41 L494.42,149.95 L494.79,150.46 L495.16,150.94 L495.54,151.38 L495.92,151.80 L496.30,152.19 L496.69,152.55 L497.08,152.89 L497.48,153.22 L497.89,153.52 L498.29,153.80 L498.71,154.07 L499.12,154.32 L499.54,154.56 L499.97,154.79 L500.40,155.00 L500.70,143.28 L501.00,132.75 L501.30,123.30 L501.60,114.80 L501.90,107.17 L502.20,100.31 L502.50,94.15 L502.80,88.61 L503.10,83.64 L503.40,79.17 L503.70,75.16 L504.00,71.55 L504.30,68.31 L504.60,65.40 L504.90,62.79 L505.20,60.44 L505.50,58.33 L505.80,56.43 L506.10,54.73 L506.40,53.20 L506.70,51.82 L507.00,50.59 L507.30,49.48 L507.60,48.48 L507.90,47.58 L508.20,46.78 L508.50,46.06 L508.80,45.41 L509.10,44.82 L509.40,44.30 L509.42,45.01 L509.45,46.44 L509.49,48.35 L509.55,50.64 L509.61,53.24 L509.69,56.09 L509.77,59.14 L509.85,62.35 L509.95,65.68 L510.05,69.09 L510.16,72.57 L510.27,76.07 L510.39,79.58 L510.51,83.08 L510.64,86.54 L510.78,89.95 L510.92,93.30 L511.06,96.56 L511.21,99.74 L511.37,102.83 L511.53,105.80 L511.69,108.67 L511.86,111.43 L512.03,114.07 L512.21,116.59 L512.39,118.99 L512.58,121.28 L512.77,123.45 L512.96,125.50 L513.16,127.45 L513.36,129.28 L513.57,131.01 L513.78,132.63 L513.99,134.16 L514.21,135.60 L514.43,136.94 L514.66,138.20 L514.89,139.38 L515.12,140.48 L515.36,141.51 L515.60,142.47 L515.84,143.37 L516.09,144.21 L516.34,144.99 L516.59,145.72 L516.85,146.41 L517.11,147.05 L517.38,147.64 L517.64,148.20 L517.92,148.72 L518.19,149.21 L518.47,149.67 L518.75,150.10 L519.03,150.51 L519.32,150.89 L519.61,151.25 L519.90,151.59 L520.20,151.91 L520.50,152.21 L520.80,152.50" fill="none" stroke="#111" stroke-width="1.2"/>
<text x="10.3" y="193.7" font-size="8.6" text-anchor="start" font-weight="bold" fill="#222" >(c)</text>
<polyline points="41.9,316.7 37.9,224.2 107.6,200.3 212.3,206.1 210.5,281.3" fill="none" stroke="#777" stroke-width="0.8"/>
<line x1="107.6" y1="200.3" x2="107.6" y2="270.9" stroke="#777" stroke-width="0.8"/>
<polyline points="41.8,316.5 107.6,270.9 210.5,281.3" fill="none" stroke="#777" stroke-width="0.8"/>
<polyline points="41.8,316.5 171.4,335 210.5,281.3" fill="none" stroke="#333" stroke-width="0.8"/><path d="M83.5,322.5 v1.8 M127.6,328.8 v1.8 M201.8,292 h-2 M192.4,304.5 h-2 M183,318 h-2" stroke="#333" stroke-width="0.7"/>
<line x1="39.9" y1="316.7" x2="41.9" y2="316.7" stroke="#555" stroke-width="0.7"/>
<text transform="translate(35.5 319.09999999999997) scale(0.87 1)" x="0" y="0" font-size="7.0" text-anchor="end" fill="#2a2a2a">0</text>
<line x1="39.1" y1="298.2" x2="41.1" y2="298.2" stroke="#555" stroke-width="0.7"/>
<text transform="translate(35.5 300.59999999999997) scale(0.87 1)" x="0" y="0" font-size="7.0" text-anchor="end" fill="#2a2a2a">200</text>
<line x1="38.3" y1="279.7" x2="40.3" y2="279.7" stroke="#555" stroke-width="0.7"/>
<text transform="translate(35.5 282.09999999999997) scale(0.87 1)" x="0" y="0" font-size="7.0" text-anchor="end" fill="#2a2a2a">400</text>
<line x1="37.5" y1="261.2" x2="39.5" y2="261.2" stroke="#555" stroke-width="0.7"/>
<text transform="translate(35.5 263.59999999999997) scale(0.87 1)" x="0" y="0" font-size="7.0" text-anchor="end" fill="#2a2a2a">600</text>
<line x1="36.699999999999996" y1="242.7" x2="38.699999999999996" y2="242.7" stroke="#555" stroke-width="0.7"/>
<text transform="translate(35.5 245.1) scale(0.87 1)" x="0" y="0" font-size="7.0" text-anchor="end" fill="#2a2a2a">800</text>
<line x1="35.9" y1="224.2" x2="37.9" y2="224.2" stroke="#555" stroke-width="0.7"/>
<text transform="translate(35.5 226.6) scale(0.87 1)" x="0" y="0" font-size="7.0" text-anchor="end" fill="#2a2a2a">1,000</text>
<text x="0" y="0" font-size="7.3" text-anchor="middle" font-weight="bold" fill="#111" transform="translate(15.6 269) rotate(-90)">Response (%)</text>
<text transform="translate(62.3 330.8) scale(0.87 1)" x="0" y="0" font-size="7.0" text-anchor="middle" fill="#2a2a2a">0.1 ppm</text>
<text transform="translate(104.3 336.6) scale(0.87 1)" x="0" y="0" font-size="7.0" text-anchor="middle" fill="#2a2a2a">0.3 ppm</text>
<text transform="translate(148.7 342.4) scale(0.87 1)" x="0" y="0" font-size="7.0" text-anchor="middle" fill="#2a2a2a">0.5 ppm</text>
<text x="100.5" y="350.5" font-size="7.3" font-weight="bold" fill="#111" text-anchor="middle">NO<tspan font-size="5" dy="1.5">2</tspan><tspan dy="-1.5"> (ppm)</tspan></text>
<text transform="translate(213.7 291.7) scale(0.9 1)" x="0" y="0" font-size="7.6" fill="#2a2a2a" letter-spacing="0.1">SnO<tspan font-size="5" dy="1.4">2</tspan><tspan dy="-1.4">-Gr (wet air)</tspan></text>
<text transform="translate(202.5 304.2) scale(0.9 1)" x="0" y="0" font-size="7.6" fill="#2a2a2a" letter-spacing="0.1">SnO<tspan font-size="5" dy="1.4">2</tspan><tspan dy="-1.4">-Gr (dry air)</tspan></text>
<text transform="translate(195.2 317.5) scale(0.9 1)" x="0" y="0" font-size="7.6" fill="#2a2a2a" letter-spacing="0.1">SnO<tspan font-size="5" dy="1.4">2</tspan><tspan dy="-1.4"> (wet air)</tspan></text>
<text transform="translate(185.2 331.3) scale(0.9 1)" x="0" y="0" font-size="7.6" fill="#2a2a2a" letter-spacing="0.1">SnO<tspan font-size="5" dy="1.4">2</tspan><tspan dy="-1.4"> (dry air)</tspan></text>
<polygon points="110.0,262.6 114.4,259.40000000000003 125.7,260.40000000000003 121.3,263.6" fill="#7f9a30" stroke="#555" stroke-width="0.4"/><g clip-path="url(#cp1)"><polygon points="121.3,263.6 125.7,260.40000000000003 125.7,284.40000000000003 121.3,287.6" fill="#5f8a2a"/><path d="M120.30,253.48 L126.70,258.13 M120.30,256.48 L126.70,261.13 M120.30,259.48 L126.70,264.13 M120.30,262.48 L126.70,267.13 M120.30,265.48 L126.70,270.13 M120.30,268.48 L126.70,273.13 M120.30,271.48 L126.70,276.13 M120.30,274.48 L126.70,279.13 M120.30,277.48 L126.70,282.13 M120.30,280.48 L126.70,285.13 M120.30,283.48 L126.70,288.13 M120.30,286.48 L126.70,291.13 M120.30,289.48 L126.70,294.13" stroke="#8aa030" stroke-width="0.85" fill="none"/></g><polygon points="121.3,263.6 125.7,260.40000000000003 125.7,284.40000000000003 121.3,287.6" fill="none" stroke="#555" stroke-width="0.4"/><g clip-path="url(#cp2)"><polygon points="110.0,262.6 121.3,263.6 121.3,287.6 110.0,286.6" fill="#f2c200"/><path d="M109.00,250.66 L122.30,260.33 M109.00,253.66 L122.30,263.33 M109.00,256.66 L122.30,266.33 M109.00,259.66 L122.30,269.33 M109.00,262.66 L122.30,272.33 M109.00,265.66 L122.30,275.33 M109.00,268.66 L122.30,278.33 M109.00,271.66 L122.30,281.33 M109.00,274.66 L122.30,284.33 M109.00,277.66 L122.30,287.33 M109.00,280.66 L122.30,290.33 M109.00,283.66 L122.30,293.33 M109.00,286.66 L122.30,296.33 M109.00,289.66 L122.30,299.33" stroke="#22aedc" stroke-width="1.26" fill="none"/></g><polygon points="110.0,262.6 121.3,263.6 121.3,287.6 110.0,286.6" fill="none" stroke="#555" stroke-width="0.4"/>
<polygon points="144.5,234.2 148.2,231.89999999999998 159.5,233.49999999999997 155.8,235.79999999999998" fill="#7f9a30" stroke="#555" stroke-width="0.4"/><g clip-path="url(#cp3)"><polygon points="155.8,235.79999999999998 159.5,233.49999999999997 159.5,281.5 155.8,283.79999999999995" fill="#5f8a2a"/><path d="M154.80,227.09 L160.50,231.23 M154.80,230.09 L160.50,234.23 M154.80,233.09 L160.50,237.23 M154.80,236.09 L160.50,240.23 M154.80,239.09 L160.50,243.23 M154.80,242.09 L160.50,246.23 M154.80,245.09 L160.50,249.23 M154.80,248.09 L160.50,252.23 M154.80,251.09 L160.50,255.23 M154.80,254.09 L160.50,258.23 M154.80,257.09 L160.50,261.23 M154.80,260.09 L160.50,264.23 M154.80,263.09 L160.50,267.23 M154.80,266.09 L160.50,270.23 M154.80,269.09 L160.50,273.23 M154.80,272.09 L160.50,276.23 M154.80,275.09 L160.50,279.23 M154.80,278.09 L160.50,282.23 M154.80,281.09 L160.50,285.23 M154.80,284.09 L160.50,288.23" stroke="#8aa030" stroke-width="0.85" fill="none"/></g><polygon points="155.8,235.79999999999998 159.5,233.49999999999997 159.5,281.5 155.8,283.79999999999995" fill="none" stroke="#555" stroke-width="0.4"/><g clip-path="url(#cp4)"><polygon points="144.5,234.2 155.8,235.79999999999998 155.8,283.79999999999995 144.5,282.2" fill="#f2c200"/><path d="M143.50,222.26 L156.80,231.93 M143.50,225.26 L156.80,234.93 M143.50,228.26 L156.80,237.93 M143.50,231.26 L156.80,240.93 M143.50,234.26 L156.80,243.93 M143.50,237.26 L156.80,246.93 M143.50,240.26 L156.80,249.93 M143.50,243.26 L156.80,252.93 M143.50,246.26 L156.80,255.93 M143.50,249.26 L156.80,258.93 M143.50,252.26 L156.80,261.93 M143.50,255.26 L156.80,264.93 M143.50,258.26 L156.80,267.93 M143.50,261.26 L156.80,270.93 M143.50,264.26 L156.80,273.93 M143.50,267.26 L156.80,276.93 M143.50,270.26 L156.80,279.93 M143.50,273.26 L156.80,282.93 M143.50,276.26 L156.80,285.93 M143.50,279.26 L156.80,288.93 M143.50,282.26 L156.80,291.93 M143.50,285.26 L156.80,294.93" stroke="#22aedc" stroke-width="1.26" fill="none"/></g><polygon points="144.5,234.2 155.8,235.79999999999998 155.8,283.79999999999995 144.5,282.2" fill="none" stroke="#555" stroke-width="0.4"/>
<polygon points="181.9,212.0 184.8,209.6 196.70000000000002,211.1 193.8,213.5" fill="#7f9a30" stroke="#555" stroke-width="0.4"/><g clip-path="url(#cp5)"><polygon points="193.8,213.5 196.70000000000002,211.1 196.70000000000002,286.1 193.8,288.5" fill="#5f8a2a"/><path d="M192.80,205.27 L197.70,208.83 M192.80,208.27 L197.70,211.83 M192.80,211.27 L197.70,214.83 M192.80,214.27 L197.70,217.83 M192.80,217.27 L197.70,220.83 M192.80,220.27 L197.70,223.83 M192.80,223.27 L197.70,226.83 M192.80,226.27 L197.70,229.83 M192.80,229.27 L197.70,232.83 M192.80,232.27 L197.70,235.83 M192.80,235.27 L197.70,238.83 M192.80,238.27 L197.70,241.83 M192.80,241.27 L197.70,244.83 M192.80,244.27 L197.70,247.83 M192.80,247.27 L197.70,250.83 M192.80,250.27 L197.70,253.83 M192.80,253.27 L197.70,256.83 M192.80,256.27 L197.70,259.83 M192.80,259.27 L197.70,262.83 M192.80,262.27 L197.70,265.83 M192.80,265.27 L197.70,268.83 M192.80,268.27 L197.70,271.83 M192.80,271.27 L197.70,274.83 M192.80,274.27 L197.70,277.83 M192.80,277.27 L197.70,280.83 M192.80,280.27 L197.70,283.83 M192.80,283.27 L197.70,286.83 M192.80,286.27 L197.70,289.83 M192.80,289.27 L197.70,292.83" stroke="#8aa030" stroke-width="0.85" fill="none"/></g><polygon points="193.8,213.5 196.70000000000002,211.1 196.70000000000002,286.1 193.8,288.5" fill="none" stroke="#555" stroke-width="0.4"/><g clip-path="url(#cp6)"><polygon points="181.9,212.0 193.8,213.5 193.8,288.5 181.9,287.0" fill="#f2c200"/><path d="M180.90,199.63 L194.80,209.73 M180.90,202.63 L194.80,212.73 M180.90,205.63 L194.80,215.73 M180.90,208.63 L194.80,218.73 M180.90,211.63 L194.80,221.73 M180.90,214.63 L194.80,224.73 M180.90,217.63 L194.80,227.73 M180.90,220.63 L194.80,230.73 M180.90,223.63 L194.80,233.73 M180.90,226.63 L194.80,236.73 M180.90,229.63 L194.80,239.73 M180.90,232.63 L194.80,242.73 M180.90,235.63 L194.80,245.73 M180.90,238.63 L194.80,248.73 M180.90,241.63 L194.80,251.73 M180.90,244.63 L194.80,254.73 M180.90,247.63 L194.80,257.73 M180.90,250.63 L194.80,260.73 M180.90,253.63 L194.80,263.73 M180.90,256.63 L194.80,266.73 M180.90,259.63 L194.80,269.73 M180.90,262.63 L194.80,272.73 M180.90,265.63 L194.80,275.73 M180.90,268.63 L194.80,278.73 M180.90,271.63 L194.80,281.73 M180.90,274.63 L194.80,284.73 M180.90,277.63 L194.80,287.73 M180.90,280.63 L194.80,290.73 M180.90,283.63 L194.80,293.73 M180.90,286.63 L194.80,296.73 M180.90,289.63 L194.80,299.73" stroke="#22aedc" stroke-width="1.26" fill="none"/></g><polygon points="181.9,212.0 193.8,213.5 193.8,288.5 181.9,287.0" fill="none" stroke="#555" stroke-width="0.4"/>
<polygon points="96.5,284.3 101.6,280.40000000000003 112.6,281.40000000000003 107.5,285.3" fill="#e0a800" stroke="#555" stroke-width="0.4"/><polygon points="107.5,285.3 112.6,281.40000000000003 112.6,286.90000000000003 107.5,290.8" fill="#c99400" stroke="#555" stroke-width="0.4"/><polygon points="96.5,284.3 107.5,285.3 107.5,290.8 96.5,289.8" fill="#ffc000" stroke="#555" stroke-width="0.4"/>
<polygon points="132.3,247.5 136.70000000000002,244.4 148.9,245.70000000000002 144.5,248.8" fill="#e0a800" stroke="#555" stroke-width="0.4"/><polygon points="144.5,248.8 148.9,245.70000000000002 148.9,291.70000000000005 144.5,294.8" fill="#c99400" stroke="#555" stroke-width="0.4"/><polygon points="132.3,247.5 144.5,248.8 144.5,294.8 132.3,293.5" fill="#ffc000" stroke="#555" stroke-width="0.4"/>
<polygon points="171.7,231.7 175.1,229.2 187.6,230.0 184.2,232.5" fill="#e0a800" stroke="#555" stroke-width="0.4"/><polygon points="184.2,232.5 187.6,230.0 187.6,294.5 184.2,297.0" fill="#c99400" stroke="#555" stroke-width="0.4"/><polygon points="171.7,231.7 184.2,232.5 184.2,297.0 171.7,296.2" fill="#ffc000" stroke="#555" stroke-width="0.4"/>
<polygon points="79.9,288.7 86.7,284.3 97.9,285.3 91.10000000000001,289.7" fill="#3aa8cc" stroke="#555" stroke-width="0.4"/><g clip-path="url(#cp7)"><polygon points="91.10000000000001,289.7 97.9,285.3 97.9,297.90000000000003 91.10000000000001,302.3" fill="#c4ccd0"/><path d="M90.10,276.83 L98.90,283.23 M90.10,279.63 L98.90,286.03 M90.10,282.43 L98.90,288.83 M90.10,285.23 L98.90,291.63 M90.10,288.03 L98.90,294.43 M90.10,290.83 L98.90,297.23 M90.10,293.63 L98.90,300.03 M90.10,296.43 L98.90,302.83 M90.10,299.23 L98.90,305.63 M90.10,302.03 L98.90,308.43" stroke="#1a80b0" stroke-width="1.25" fill="none"/></g><polygon points="91.10000000000001,289.7 97.9,285.3 97.9,297.90000000000003 91.10000000000001,302.3" fill="none" stroke="#555" stroke-width="0.4"/><g clip-path="url(#cp8)"><polygon points="79.9,288.7 91.10000000000001,289.7 91.10000000000001,302.3 79.9,301.3" fill="#ffffff"/><path d="M78.90,277.04 L92.10,286.63 M78.90,279.84 L92.10,289.43 M78.90,282.64 L92.10,292.23 M78.90,285.44 L92.10,295.03 M78.90,288.24 L92.10,297.83 M78.90,291.04 L92.10,300.63 M78.90,293.84 L92.10,303.43 M78.90,296.64 L92.10,306.23 M78.90,299.44 L92.10,309.03 M78.90,302.24 L92.10,311.83" stroke="#18b0ec" stroke-width="1.25" fill="none"/></g><polygon points="79.9,288.7 91.10000000000001,289.7 91.10000000000001,302.3 79.9,301.3" fill="none" stroke="#555" stroke-width="0.4"/>
<polygon points="118.5,277.0 124.1,272.8 136.29999999999998,273.40000000000003 130.7,277.6" fill="#3aa8cc" stroke="#555" stroke-width="0.4"/><g clip-path="url(#cp9)"><polygon points="130.7,277.6 136.29999999999998,273.40000000000003 136.29999999999998,302.1 130.7,306.3" fill="#c4ccd0"/><path d="M129.70,265.80 L137.30,271.33 M129.70,268.60 L137.30,274.13 M129.70,271.40 L137.30,276.93 M129.70,274.20 L137.30,279.73 M129.70,277.00 L137.30,282.53 M129.70,279.80 L137.30,285.33 M129.70,282.60 L137.30,288.13 M129.70,285.40 L137.30,290.93 M129.70,288.20 L137.30,293.73 M129.70,291.00 L137.30,296.53 M129.70,293.80 L137.30,299.33 M129.70,296.60 L137.30,302.13 M129.70,299.40 L137.30,304.93 M129.70,302.20 L137.30,307.73 M129.70,305.00 L137.30,310.53 M129.70,307.80 L137.30,313.33" stroke="#1a80b0" stroke-width="1.25" fill="none"/></g><polygon points="130.7,277.6 136.29999999999998,273.40000000000003 136.29999999999998,302.1 130.7,306.3" fill="none" stroke="#555" stroke-width="0.4"/><g clip-path="url(#cp10)"><polygon points="118.5,277.0 130.7,277.6 130.7,306.3 118.5,305.7" fill="#ffffff"/><path d="M117.50,264.61 L131.70,274.93 M117.50,267.41 L131.70,277.73 M117.50,270.21 L131.70,280.53 M117.50,273.01 L131.70,283.33 M117.50,275.81 L131.70,286.13 M117.50,278.61 L131.70,288.93 M117.50,281.41 L131.70,291.73 M117.50,284.21 L131.70,294.53 M117.50,287.01 L131.70,297.33 M117.50,289.81 L131.70,300.13 M117.50,292.61 L131.70,302.93 M117.50,295.41 L131.70,305.73 M117.50,298.21 L131.70,308.53 M117.50,301.01 L131.70,311.33 M117.50,303.81 L131.70,314.13 M117.50,306.61 L131.70,316.93" stroke="#18b0ec" stroke-width="1.25" fill="none"/></g><polygon points="118.5,277.0 130.7,277.6 130.7,306.3 118.5,305.7" fill="none" stroke="#555" stroke-width="0.4"/>
<polygon points="159.5,277.5 163.7,272.7 176.39999999999998,274.7 172.2,279.5" fill="#3aa8cc" stroke="#555" stroke-width="0.4"/><g clip-path="url(#cp11)"><polygon points="172.2,279.5 176.39999999999998,274.7 176.39999999999998,307.9 172.2,312.7" fill="#c4ccd0"/><path d="M171.20,268.12 L177.40,272.63 M171.20,270.92 L177.40,275.43 M171.20,273.72 L177.40,278.23 M171.20,276.52 L177.40,281.03 M171.20,279.32 L177.40,283.83 M171.20,282.12 L177.40,286.63 M171.20,284.92 L177.40,289.43 M171.20,287.72 L177.40,292.23 M171.20,290.52 L177.40,295.03 M171.20,293.32 L177.40,297.83 M171.20,296.12 L177.40,300.63 M171.20,298.92 L177.40,303.43 M171.20,301.72 L177.40,306.23 M171.20,304.52 L177.40,309.03 M171.20,307.32 L177.40,311.83 M171.20,310.12 L177.40,314.63 M171.20,312.92 L177.40,317.43" stroke="#1a80b0" stroke-width="1.25" fill="none"/></g><polygon points="172.2,279.5 176.39999999999998,274.7 176.39999999999998,307.9 172.2,312.7" fill="none" stroke="#555" stroke-width="0.4"/><g clip-path="url(#cp12)"><polygon points="159.5,277.5 172.2,279.5 172.2,312.7 159.5,310.7" fill="#ffffff"/><path d="M158.50,264.75 L173.20,275.43 M158.50,267.55 L173.20,278.23 M158.50,270.35 L173.20,281.03 M158.50,273.15 L173.20,283.83 M158.50,275.95 L173.20,286.63 M158.50,278.75 L173.20,289.43 M158.50,281.55 L173.20,292.23 M158.50,284.35 L173.20,295.03 M158.50,287.15 L173.20,297.83 M158.50,289.95 L173.20,300.63 M158.50,292.75 L173.20,303.43 M158.50,295.55 L173.20,306.23 M158.50,298.35 L173.20,309.03 M158.50,301.15 L173.20,311.83 M158.50,303.95 L173.20,314.63 M158.50,306.75 L173.20,317.43 M158.50,309.55 L173.20,320.23 M158.50,312.35 L173.20,323.03" stroke="#18b0ec" stroke-width="1.25" fill="none"/></g><polygon points="159.5,277.5 172.2,279.5 172.2,312.7 159.5,310.7" fill="none" stroke="#555" stroke-width="0.4"/>
<polygon points="61.5,311.8 68.8,305.3 81.2,306.5 73.9,313.0" fill="#bfbfbf" stroke="#555" stroke-width="0.4"/><polygon points="73.9,313.0 81.2,306.5 81.2,309.1 73.9,315.6" fill="#9a9a9a" stroke="#555" stroke-width="0.4"/><polygon points="61.5,311.8 73.9,313.0 73.9,315.6 61.5,314.40000000000003" fill="#fff" stroke="#555" stroke-width="0.4"/>
<polygon points="102.4,305.8 108.7,300.3 121.9,301.90000000000003 115.60000000000001,307.40000000000003" fill="#bfbfbf" stroke="#555" stroke-width="0.4"/><polygon points="115.60000000000001,307.40000000000003 121.9,301.90000000000003 121.9,315.40000000000003 115.60000000000001,320.90000000000003" fill="#9a9a9a" stroke="#555" stroke-width="0.4"/><polygon points="102.4,305.8 115.60000000000001,307.40000000000003 115.60000000000001,320.90000000000003 102.4,319.3" fill="#fff" stroke="#555" stroke-width="0.4"/>
<polygon points="145.6,306.1 150.1,300.40000000000003 164.79999999999998,301.70000000000005 160.29999999999998,307.40000000000003" fill="#bfbfbf" stroke="#555" stroke-width="0.4"/><polygon points="160.29999999999998,307.40000000000003 164.79999999999998,301.70000000000005 164.79999999999998,320.90000000000003 160.29999999999998,326.6" fill="#9a9a9a" stroke="#555" stroke-width="0.4"/><polygon points="145.6,306.1 160.29999999999998,307.40000000000003 160.29999999999998,326.6 145.6,325.3" fill="#fff" stroke="#555" stroke-width="0.4"/>
<text x="299.4" y="194.2" font-size="8.6" text-anchor="start" font-weight="bold" fill="#222" >(d)</text>
<line x1="323.5" y1="203" x2="323.5" y2="334.4" stroke="#444" stroke-width="1"/>
<line x1="323.5" y1="334.4" x2="535.4" y2="334.4" stroke="#444" stroke-width="1"/>
<line x1="321.5" y1="334.4" x2="323.5" y2="334.4" stroke="#444" stroke-width="0.8"/>
<text transform="translate(320.7 336.79999999999995) scale(0.87 1)" x="0" y="0" font-size="7.0" text-anchor="end" fill="#2a2a2a">0</text>
<line x1="321.5" y1="312.5" x2="323.5" y2="312.5" stroke="#444" stroke-width="0.8"/>
<text transform="translate(320.7 314.9) scale(0.87 1)" x="0" y="0" font-size="7.0" text-anchor="end" fill="#2a2a2a">200</text>
<line x1="321.5" y1="290.6" x2="323.5" y2="290.6" stroke="#444" stroke-width="0.8"/>
<text transform="translate(320.7 292.99999999999994) scale(0.87 1)" x="0" y="0" font-size="7.0" text-anchor="end" fill="#2a2a2a">400</text>
<line x1="321.5" y1="268.7" x2="323.5" y2="268.7" stroke="#444" stroke-width="0.8"/>
<text transform="translate(320.7 271.09999999999997) scale(0.87 1)" x="0" y="0" font-size="7.0" text-anchor="end" fill="#2a2a2a">600</text>
<line x1="321.5" y1="246.8" x2="323.5" y2="246.8" stroke="#444" stroke-width="0.8"/>
<text transform="translate(320.7 249.2) scale(0.87 1)" x="0" y="0" font-size="7.0" text-anchor="end" fill="#2a2a2a">800</text>
<line x1="321.5" y1="224.9" x2="323.5" y2="224.9" stroke="#444" stroke-width="0.8"/>
<text transform="translate(320.7 227.29999999999998) scale(0.87 1)" x="0" y="0" font-size="7.0" text-anchor="end" fill="#2a2a2a">1,000</text>
<line x1="321.5" y1="203.0" x2="323.5" y2="203.0" stroke="#444" stroke-width="0.8"/>
<text transform="translate(320.7 205.4) scale(0.87 1)" x="0" y="0" font-size="7.0" text-anchor="end" fill="#2a2a2a">1,200</text>
<line x1="323.5" y1="334.4" x2="323.5" y2="336.4" stroke="#444" stroke-width="0.8"/>
<text transform="translate(324.3 345.9) scale(0.87 1)" x="0" y="0" font-size="7.0" text-anchor="middle" fill="#2a2a2a">0</text>
<line x1="365.9" y1="334.4" x2="365.9" y2="336.4" stroke="#444" stroke-width="0.8"/>
<text transform="translate(366.68 345.9) scale(0.87 1)" x="0" y="0" font-size="7.0" text-anchor="middle" fill="#2a2a2a">0.2</text>
<line x1="408.3" y1="334.4" x2="408.3" y2="336.4" stroke="#444" stroke-width="0.8"/>
<text transform="translate(409.06 345.9) scale(0.87 1)" x="0" y="0" font-size="7.0" text-anchor="middle" fill="#2a2a2a">0.4</text>
<line x1="450.6" y1="334.4" x2="450.6" y2="336.4" stroke="#444" stroke-width="0.8"/>
<text transform="translate(451.44 345.9) scale(0.87 1)" x="0" y="0" font-size="7.0" text-anchor="middle" fill="#2a2a2a">0.6</text>
<line x1="493.0" y1="334.4" x2="493.0" y2="336.4" stroke="#444" stroke-width="0.8"/>
<text transform="translate(493.82 345.9) scale(0.87 1)" x="0" y="0" font-size="7.0" text-anchor="middle" fill="#2a2a2a">0.8</text>
<line x1="535.4" y1="334.4" x2="535.4" y2="336.4" stroke="#444" stroke-width="0.8"/>
<text transform="translate(536.1999999999999 345.9) scale(0.87 1)" x="0" y="0" font-size="7.0" text-anchor="middle" fill="#2a2a2a">1</text>
<line x1="344.7" y1="334.4" x2="344.7" y2="335.9" stroke="#444" stroke-width="0.6"/>
<line x1="387.1" y1="334.4" x2="387.1" y2="335.9" stroke="#444" stroke-width="0.6"/>
<line x1="429.4" y1="334.4" x2="429.4" y2="335.9" stroke="#444" stroke-width="0.6"/>
<line x1="471.8" y1="334.4" x2="471.8" y2="335.9" stroke="#444" stroke-width="0.6"/>
<line x1="514.2" y1="334.4" x2="514.2" y2="335.9" stroke="#444" stroke-width="0.6"/>
<text x="429.8" y="354" font-size="7.2" font-weight="bold" fill="#111" text-anchor="middle">NO<tspan font-size="5" dy="1.5">2</tspan><tspan dy="-1.5"> (ppm)</tspan></text>
<text x="0" y="0" font-size="7.0" text-anchor="middle" font-weight="bold" fill="#111" transform="translate(300.3 260.9) rotate(-90)">Response (%)</text>
<path d="M333.04,325.19 L334.67,322.81 L336.30,320.48 L337.93,318.21 L339.56,316.00 L341.19,313.83 L342.83,311.72 L344.46,309.66 L346.09,307.64 L347.72,305.67 L349.35,303.74 L350.98,301.85 L352.62,300.01 L354.25,298.20 L355.88,296.44 L357.51,294.70 L359.14,293.01 L360.77,291.34 L362.40,289.71 L364.04,288.10 L365.67,286.53 L367.30,284.98 L368.93,283.45 L370.56,281.95 L372.19,280.47 L373.83,279.00 L375.46,277.56 L377.09,276.14 L378.72,274.72 L380.35,273.33 L381.98,271.94 L383.62,270.56 L385.25,269.19 L386.88,267.83 L388.51,266.48 L390.14,265.13 L391.77,263.78 L393.41,262.43 L395.04,261.08 L396.67,259.72 L398.30,258.37 L399.93,257.00 L401.56,255.63 L403.20,254.25 L404.83,252.86 L406.46,251.45 L408.09,250.04 L409.72,248.60 L411.35,247.15 L412.99,245.68 L414.62,244.19 L416.25,242.68 L417.88,241.14 L419.51,239.58 L421.14,237.99 L422.78,236.38 L424.41,234.73 L426.04,233.05 L427.67,231.34 L429.30,229.59 L430.93,227.80" fill="none" stroke="#1f8fd8" stroke-width="1.35" stroke-dasharray="4,1.5,1,1.5"/>
<path d="M333.04,325.67 L334.67,324.43 L336.30,323.22 L337.93,322.03 L339.56,320.86 L341.19,319.72 L342.83,318.60 L344.46,317.50 L346.09,316.43 L347.72,315.38 L349.35,314.35 L350.98,313.35 L352.62,312.37 L354.25,311.41 L355.88,310.48 L357.51,309.57 L359.14,308.68 L360.77,307.82 L362.40,306.98 L364.04,306.16 L365.67,305.37 L367.30,304.60 L368.93,303.85 L370.56,303.13 L372.19,302.43 L373.83,301.75 L375.46,301.10 L377.09,300.47 L378.72,299.87 L380.35,299.28 L381.98,298.72 L383.62,298.19 L385.25,297.68 L386.88,297.19 L388.51,296.72 L390.14,296.28 L391.77,295.86 L393.41,295.47 L395.04,295.10 L396.67,294.75 L398.30,294.42 L399.93,294.12 L401.56,293.84 L403.20,293.59 L404.83,293.36 L406.46,293.15 L408.09,292.96 L409.72,292.80 L411.35,292.66 L412.99,292.55 L414.62,292.46 L416.25,292.39 L417.88,292.35 L419.51,292.33 L421.14,292.33 L422.78,292.36 L424.41,292.40 L426.04,292.48 L427.67,292.57 L429.30,292.69 L430.93,292.84" fill="none" stroke="#222" stroke-width="1.3" stroke-dasharray="4,1.5,1,1.5"/>
<path d="M343.63,312.97 L346.83,310.13 L350.02,307.33 L353.22,304.58 L356.42,301.86 L359.61,299.18 L362.81,296.55 L366.00,293.96 L369.20,291.40 L372.40,288.89 L375.59,286.43 L378.79,284.00 L381.98,281.61 L385.18,279.27 L388.38,276.96 L391.57,274.70 L394.77,272.48 L397.97,270.30 L401.16,268.16 L404.36,266.06 L407.55,264.01 L410.75,261.99 L413.95,260.02 L417.14,258.09 L420.34,256.20 L423.53,254.35 L426.73,252.54 L429.93,250.78 L433.12,249.05 L436.32,247.37 L439.52,245.73 L442.71,244.12 L445.91,242.56 L449.10,241.05 L452.30,239.57 L455.50,238.13 L458.69,236.74 L461.89,235.39 L465.08,234.07 L468.28,232.80 L471.48,231.57 L474.67,230.39 L477.87,229.24 L481.07,228.13 L484.26,227.07 L487.46,226.05 L490.65,225.07 L493.85,224.13 L497.05,223.23 L500.24,222.37 L503.44,221.56 L506.63,220.78 L509.83,220.05 L513.03,219.36 L516.22,218.71 L519.42,218.10 L522.62,217.53 L525.81,217.00 L529.01,216.52 L532.20,216.07 L535.40,215.67" fill="none" stroke="#ff3030" stroke-width="1.2" stroke-dasharray="1,0.6"/>
<path d="M344.69,328.63 L347.87,327.89 L351.05,327.16 L354.23,326.45 L357.40,325.74 L360.58,325.05 L363.76,324.37 L366.94,323.69 L370.12,323.04 L373.30,322.39 L376.48,321.75 L379.65,321.13 L382.83,320.51 L386.01,319.91 L389.19,319.32 L392.37,318.74 L395.55,318.18 L398.72,317.62 L401.90,317.08 L405.08,316.55 L408.26,316.03 L411.44,315.52 L414.62,315.02 L417.80,314.53 L420.97,314.06 L424.15,313.60 L427.33,313.14 L430.51,312.71 L433.69,312.28 L436.87,311.86 L440.05,311.46 L443.22,311.06 L446.40,310.68 L449.58,310.31 L452.76,309.95 L455.94,309.60 L459.12,309.27 L462.29,308.94 L465.47,308.63 L468.65,308.33 L471.83,308.04 L475.01,307.76 L478.19,307.50 L481.37,307.24 L484.54,307.00 L487.72,306.77 L490.90,306.55 L494.08,306.34 L497.26,306.14 L500.44,305.96 L503.62,305.78 L506.79,305.62 L509.97,305.47 L513.15,305.33 L516.33,305.20 L519.51,305.09 L522.69,304.98 L525.86,304.89 L529.04,304.81 L532.22,304.74 L535.40,304.68" fill="none" stroke="#84d455" stroke-width="1.1" stroke-dasharray="0.9,0.7"/>
<circle cx="334.1" cy="334.4" r="1.9" fill="#fff" stroke="#222" stroke-width="1.1"/>
<circle cx="344.7" cy="317.4" r="1.9" fill="#fff" stroke="#222" stroke-width="1.1"/>
<circle cx="355.3" cy="307.4" r="1.9" fill="#fff" stroke="#222" stroke-width="1.1"/>
<circle cx="376.5" cy="302.1" r="1.9" fill="#fff" stroke="#222" stroke-width="1.1"/>
<circle cx="387.1" cy="296.8" r="1.9" fill="#fff" stroke="#222" stroke-width="1.1"/>
<circle cx="429.4" cy="293.2" r="1.9" fill="#fff" stroke="#222" stroke-width="1.1"/>
<circle cx="334.1" cy="329.5" r="1.9" fill="#fff" stroke="#2a95dc" stroke-width="1.1"/>
<circle cx="344.7" cy="309.3" r="1.9" fill="#fff" stroke="#2a95dc" stroke-width="1.1"/>
<circle cx="365.9" cy="280.7" r="1.9" fill="#fff" stroke="#2a95dc" stroke-width="1.1"/>
<circle cx="387.1" cy="264.9" r="1.9" fill="#fff" stroke="#2a95dc" stroke-width="1.1"/>
<circle cx="408.3" cy="256.4" r="1.9" fill="#fff" stroke="#2a95dc" stroke-width="1.1"/>
<circle cx="429.4" cy="230.6" r="1.9" fill="#fff" stroke="#2a95dc" stroke-width="1.1"/>
<circle cx="344.7" cy="330.3" r="1.8" fill="#48b850" stroke="#2a9040" stroke-width="0.8"/>
<circle cx="387.1" cy="317.4" r="1.8" fill="#48b850" stroke="#2a9040" stroke-width="0.8"/>
<circle cx="429.4" cy="312.2" r="1.8" fill="#48b850" stroke="#2a9040" stroke-width="0.8"/>
<circle cx="471.8" cy="308.8" r="1.8" fill="#48b850" stroke="#2a9040" stroke-width="0.8"/>
<circle cx="514.2" cy="306.3" r="1.8" fill="#48b850" stroke="#2a9040" stroke-width="0.8"/>
<circle cx="535.4" cy="303.4" r="1.8" fill="#48b850" stroke="#2a9040" stroke-width="0.8"/>
<circle cx="344.7" cy="325.5" r="2.1" fill="#ff0000" stroke="#cc0000" stroke-width="0.5"/>
<circle cx="387.1" cy="271.0" r="2.1" fill="#ff0000" stroke="#cc0000" stroke-width="0.5"/>
<circle cx="429.4" cy="247.6" r="2.1" fill="#ff0000" stroke="#cc0000" stroke-width="0.5"/>
<circle cx="471.8" cy="232.8" r="2.1" fill="#ff0000" stroke="#cc0000" stroke-width="0.5"/>
<circle cx="514.2" cy="218.3" r="2.1" fill="#ff0000" stroke="#cc0000" stroke-width="0.5"/>
<circle cx="479.5" cy="254.1" r="1.7" fill="#fff" stroke="#222" stroke-width="1.0"/><text x="483.2" y="256.1" font-size="5.4" fill="#222" stroke="#222" stroke-width="0.1">R2 (SnO<tspan font-size="3.6" dy="1">2</tspan><tspan dy="-1">) wet air</tspan></text>
<circle cx="479.5" cy="262.5" r="1.7" fill="#fff" stroke="#2a95dc" stroke-width="1.0"/><text x="483.2" y="264.5" font-size="5.4" fill="#222" stroke="#222" stroke-width="0.1">R3 SnO<tspan font-size="3.6" dy="1">2</tspan><tspan dy="-1">-Gr) wet air</tspan></text>
<circle cx="479.5" cy="271.3" r="1.8" fill="#3cba48" stroke="#2a8a35" stroke-width="0.4"/><text x="483.2" y="273.3" font-size="5.4" fill="#222" stroke="#222" stroke-width="0.1">R2 SnO<tspan font-size="3.6" dy="1">2</tspan><tspan dy="-1">) dry air</tspan></text>
<circle cx="479.5" cy="279.6" r="1.8" fill="#ff0000" stroke="#cc0000" stroke-width="0.4"/><text x="483.2" y="281.6" font-size="5.4" fill="#222" stroke="#222" stroke-width="0.1">R3 (SnO<tspan font-size="3.6" dy="1">2</tspan><tspan dy="-1">-Gr) dry air</tspan></text>
</svg></body></html>
